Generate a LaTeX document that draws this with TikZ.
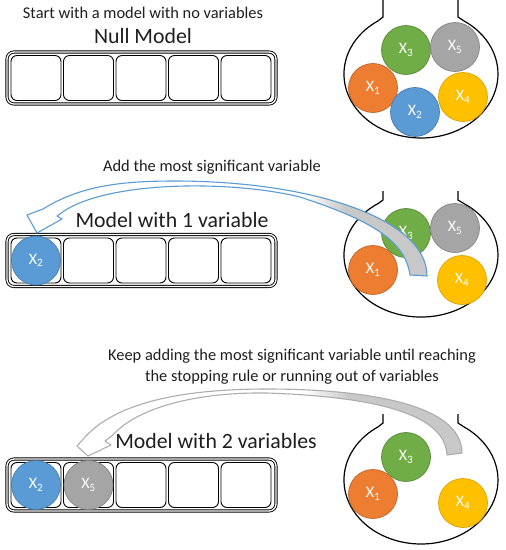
\documentclass[tikz,border=0pt]{standalone}
\usepackage{fontspec}
\setmainfont{Carlito}
\definecolor{cOrange}{HTML}{ED7D31}
\definecolor{cBlue}{HTML}{5B9BD5}
\definecolor{cGreen}{HTML}{70AD47}
\definecolor{cGrey}{HTML}{A5A5A5}
\definecolor{cYellow}{HTML}{FFC000}
\definecolor{cText}{HTML}{1E1E1E}
\definecolor{cShade}{HTML}{C8C8C8}
\definecolor{cArrowGrey}{HTML}{ADADAD}
\begin{document}
\begin{tikzpicture}[x=1pt,y=-1pt,
  frame/.style={draw, double, double distance=1.3pt, line width=0.9pt, rounded corners=7pt,
    minimum width=269pt, minimum height=52pt, inner sep=0pt},
  cell/.style={draw, line width=0.9pt, rounded corners=6pt, minimum width=50pt,
    minimum height=45pt, inner sep=0pt},
  ball/.style={circle, minimum size=49pt, inner sep=0pt, line width=0.7pt, text=white,
    font=\fontsize{16}{16}\selectfont},
  orangeball/.style={ball, fill=cOrange, draw=cOrange!80!black},
  blueball/.style={ball, fill=cBlue, draw=cBlue!80!black},
  greenball/.style={ball, fill=cGreen, draw=cGreen!80!black},
  greyball/.style={ball, fill=cGrey, draw=cGrey!80!black},
  yellowball/.style={ball, fill=cYellow, draw=cYellow!85!black},
  bowl/.style={draw=black, line width=1.2pt},
  smalltxt/.style={anchor=base, text=cText, inner sep=0pt, font=\fontsize{16.4}{19}\selectfont},
  titletxt/.style={anchor=base, text=cText, inner sep=0pt, font=\fontsize{21.8}{26}\selectfont}
]
\useasboundingbox (0,0) rectangle (506,550);

% ---------- texts ----------
\node[smalltxt] (t1) at (143,18.5) {Start with a model with no variables};
\node[titletxt] (h1) at (143,43.5) {Null Model};
\node[smalltxt] (t2) at (212,171) {Add the most significant variable};
\node[titletxt] (h2) at (172,227.5) {Model with 1 variable};
\node[smalltxt] (t3a) at (292,360) {Keep adding the most significant variable until reaching};
\node[smalltxt] (t3b) at (292,381.7) {the stopping rule or running out of variables};
\node[titletxt] (h3) at (216,448) {Model with 2 variables};

% ---------- model rows ----------
\node[frame] (f1) at (141.5,78) {};
\node[frame] (f2) at (141.5,260.5) {};
\node[frame] (f3) at (141.5,485) {};
\foreach \r/\yy in {1/78, 2/260.5, 3/485}{
  \foreach \c/\xx in {1/36, 2/88.5, 3/141, 4/193.5, 5/246}{
    \node[cell] (c\r\c) at (\xx,\yy) {};
  }
}
\node[blueball] (m2x2) at (c21) {X\textsubscript{2}};
\node[blueball] (m3x2) at (c31) {X\textsubscript{2}};
\node[greyball] (m3x5) at (c32) {X\textsubscript{5}};

% ---------- bowls ----------
\draw[bowl] (383,-3) -- (383,17) -- (378,20.9)
  arc[start angle=123.94, end angle=416.06, x radius=77pt, y radius=64pt]
  -- (458,17) -- (458,-3);
\draw[bowl] (383,191) -- (383,200) -- (378,203.6)
  arc[start angle=123.94, end angle=416.06, x radius=77pt, y radius=62pt]
  -- (458,200) -- (458,191);
\draw[bowl] (383,414) -- (383,423) -- (378,426.9)
  arc[start angle=123.94, end angle=416.06, x radius=77pt, y radius=64pt]
  -- (458,423) -- (458,414);

% bowl 1 balls
\node[greenball] (a3) at (406,50) {X\textsubscript{3}};
\node[greyball] (a5) at (455,47) {X\textsubscript{5}};
\node[orangeball] (a1) at (373,88) {X\textsubscript{1}};
\node[blueball] (a2) at (415,112) {X\textsubscript{2}};
\node[yellowball] (a4) at (463,97) {X\textsubscript{4}};
% bowl 2 balls
\node[greenball] (b3) at (406,233) {X\textsubscript{3}};
\node[greyball] (b5) at (455,228) {X\textsubscript{5}};
\node[orangeball] (b1) at (373,270) {X\textsubscript{1}};
\node[yellowball] (b4) at (462,280) {X\textsubscript{4}};
% bowl 3 balls
\node[greenball] (d3) at (406,457) {X\textsubscript{3}};
\node[orangeball] (d1) at (373,494) {X\textsubscript{1}};
\node[yellowball] (d4) at (463,503) {X\textsubscript{4}};

% ---------- arrow 2 (blue) ----------
\def\arrowtwo{(43,209) .. controls (80,186) and (120,181) .. (175,181)
  .. controls (310,181) and (427,218) .. (427,276) -- (410,275)
  .. controls (405,240) and (370,220) .. (300,197)
  .. controls (230,180) and (110,181) .. (64,211)
  -- (57,216) -- (62,219) -- (37,233) -- (27,215) -- cycle}
\fill[white] \arrowtwo;
\begin{scope}
  \clip \arrowtwo;
  \shade[left color=white, right color=cShade] (305,150) rectangle (345,300);
  \fill[cShade] (345,150) rectangle (506,300);
\end{scope}
\draw[cBlue, line width=1.1pt, line join=round] \arrowtwo;

% ---------- arrow 3 (grey) ----------
\def\arrowthree{(86,436) .. controls (120,400) and (190,389) .. (267,389)
  .. controls (350,389) and (462,400) .. (462,453) -- (447,455)
  .. controls (445,415) and (380,397) .. (267,393)
  .. controls (190,392) and (135,410) .. (113,435)
  -- (105,441) -- (111,445) -- (88,456) -- (77,446) -- cycle}
\fill[white] \arrowthree;
\begin{scope}
  \clip \arrowthree;
  \shade[left color=white, right color=cShade] (305,370) rectangle (350,470);
  \fill[cShade] (350,370) rectangle (506,470);
\end{scope}
\draw[cArrowGrey, line width=1.1pt, line join=round] \arrowthree;
\end{tikzpicture}
\end{document}
